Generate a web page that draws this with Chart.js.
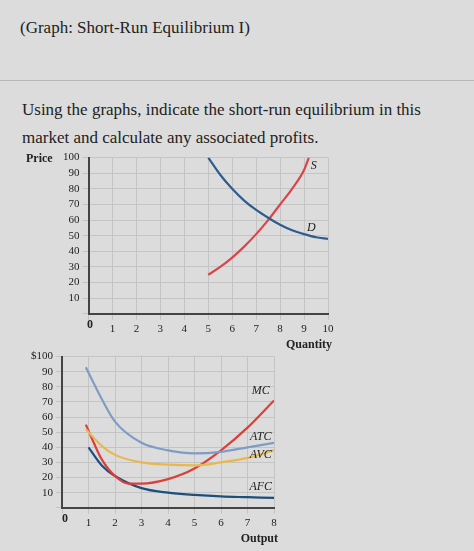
<!DOCTYPE html>
<html>
<head>
<meta charset="utf-8">
<script src="https://cdn.jsdelivr.net/npm/chart.js@4"></script>
<style>
body { margin: 0; width: 474px; height: 551px; background: #dcdcdc; font-family: "Liberation Serif", serif; position: relative; overflow: hidden; }
.title { position: absolute; left: 20px; top: 18px; font-size: 17px; color: #222; }
.rule { position: absolute; left: 0; top: 80px; width: 474px; border-top: 1px solid #b8b8b8; }
.text { position: absolute; left: 22px; top: 96px; font-size: 17px; color: #222; line-height: 28px; }
.box { position: absolute; }
</style>
</head>
<body>
<div class="title">(Graph: Short-Run Equilibrium I)</div>
<div class="rule"></div>
<div class="text">Using the graphs, indicate the short-run equilibrium in this<br>market and calculate any associated profits.</div>
<div class="box" style="left:20px;top:148px;width:330px;height:205px"><canvas id="top"></canvas></div>
<div class="box" style="left:20px;top:347px;width:300px;height:200px"><canvas id="bottom"></canvas></div>
<script>
// marché: demande / offre
const qD = [5, 5.5, 6, 6.5, 7, 7.5, 8, 8.5, 9, 9.5, 10];
const pD = [100, 89, 80, 72.5, 66.5, 61.5, 57, 53.5, 51, 49, 48];
const qS = [5, 5.5, 6, 6.5, 7, 7.5, 8, 8.5, 9, 9.2];
const pS = [25, 30, 36, 43, 51, 60, 70, 80, 92, 100];

// coûts de la firme
const qATC = [0.9, 1.5, 2, 3, 4, 5, 6, 7, 8];
const ATC = [93, 72, 57, 43, 38, 36, 37, 40, 43];
const qAVC = [0.9, 1.5, 2, 3, 4, 5, 6, 7, 8];
const AVC = [52, 41, 35, 30, 28.5, 28, 30, 33, 38];
const qMC = [0.9, 1.2, 1.5, 2, 2.5, 3, 4, 5, 6, 7, 8];
const MC = [55, 43, 32, 21, 16, 16, 19, 26, 38, 53, 71];
const qAFC = [1, 1.5, 2, 3, 4, 5, 6, 7, 8];
const AFC = [40, 28, 21, 13, 10, 8.5, 7.5, 7, 6.5];

const pts = (xs, ys) => xs.map((x, i) => ({ x: x, y: ys[i] }));
const font = { family: 'Liberation Serif', size: 11 };

const labels = {
    id: 'labels',
    afterDatasetsDraw(chart, args, opts) {
        const ctx = chart.ctx, sx = chart.scales.x, sy = chart.scales.y;
        ctx.save();
        ctx.fillStyle = '#222';
        opts.items.forEach(l => {
            ctx.font = (l.style || 'italic') + ' ' + (l.size || 12) + 'px Liberation Serif';
            ctx.textAlign = l.align || 'center';
            const x = l.px !== undefined ? l.px : sx.getPixelForValue(l.x);
            const y = l.py !== undefined ? l.py : sy.getPixelForValue(l.y);
            ctx.fillText(l.text, x, y);
        });
        ctx.restore();
    }
};

function line(data, color) {
    return { data: data, borderColor: color, borderWidth: 2.2, pointRadius: 0, cubicInterpolationMode: 'monotone' };
}

function axes(xmax, yfmt) {
    return {
        x: { type: 'linear', min: 0, max: xmax,
             ticks: { stepSize: 1, color: '#222', font: font, callback: v => v === 0 ? '' : v },
             grid: { color: '#c4c4c4', tickLength: 6 }, border: { color: '#444', width: 2 } },
        y: { min: 0, max: 100,
             ticks: { stepSize: 10, autoSkip: false, color: '#222', font: font, callback: yfmt },
             grid: { color: '#c4c4c4', tickLength: 6 }, border: { color: '#444', width: 2 } }
    };
}

new Chart(document.querySelector('#top'), {
    type: 'line',
    data: { datasets: [line(pts(qD, pD), '#2d5d8f'), line(pts(qS, pS), '#d9464a')] },
    options: {
        animation: false, responsive: true, maintainAspectRatio: false,
        layout: { padding: { left: 40, right: 22, top: 6, bottom: 14 } },
        plugins: { legend: { display: false }, tooltip: { enabled: false },
            labels: { items: [
                { text: 'Price', px: 6, py: 14, style: 'bold', align: 'left' },
                { text: 'S', x: 9.4, y: 93 },
                { text: 'D', x: 9.3, y: 53 },
                { text: 'Quantity', px: 312, py: 200, style: 'bold', align: 'right' },
                { text: '0', px: 70, py: 180, style: 'bold' }
            ] } },
        scales: axes(10, v => v === 0 ? '' : v)
    },
    plugins: [labels]
});

new Chart(document.querySelector('#bottom'), {
    type: 'line',
    data: { datasets: [
        line(pts(qATC, ATC), '#7f9cc4'),
        line(pts(qAVC, AVC), '#e9b84c'),
        line(pts(qMC, MC), '#dc3f3a'),
        line(pts(qAFC, AFC), '#1d4f7c')
    ] },
    options: {
        animation: false, responsive: true, maintainAspectRatio: false,
        layout: { padding: { left: 8, right: 46, top: 6, bottom: 14 } },
        plugins: { legend: { display: false }, tooltip: { enabled: false },
            labels: { items: [
                { text: 'MC', x: 7.5, y: 75 },
                { text: 'ATC', x: 7.5, y: 45 },
                { text: 'AVC', x: 7.5, y: 33 },
                { text: 'AFC', x: 7.5, y: 12 },
                { text: 'Output', px: 258, py: 195, style: 'bold', align: 'right' },
                { text: '0', px: 45, py: 175, style: 'bold' }
            ] } },
        scales: axes(8, v => v === 0 ? '' : (v === 100 ? '$100' : v))
    },
    plugins: [labels]
});
</script>
</body>
</html>
